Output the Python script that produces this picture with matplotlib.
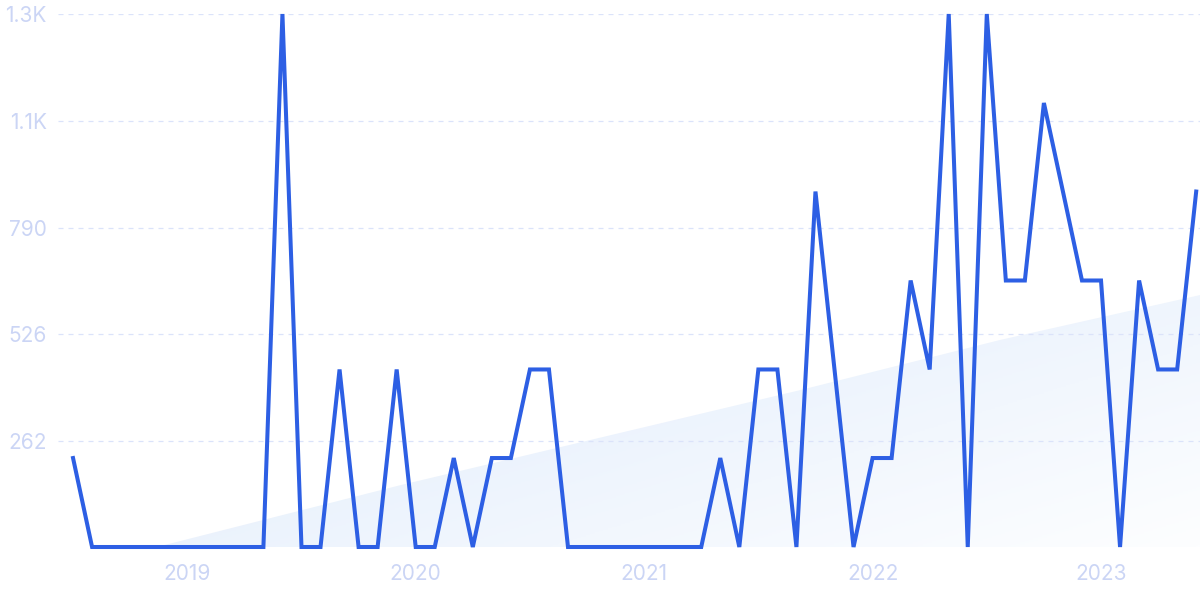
import numpy as np
import matplotlib.pyplot as plt
from matplotlib.colors import LinearSegmentedColormap

# monthly values, July 2018 .. June 2023
values = [220, 0, 0, 0, 0, 0, 0, 0, 0, 0, 0, 1318,
          0, 0, 439, 0, 0, 439, 0, 0, 220, 0, 220, 220,
          439, 439, 0, 0, 0, 0, 0, 0, 0, 0, 220, 0,
          439, 439, 0, 879, 439, 0, 220, 220, 659, 439, 1318, 0,
          1318, 659, 659, 1098, 879, 659, 659, 0, 659, 439, 439, 879]
months = np.arange(len(values))

# trend band shown under the line
trend_x = [0, 4.4, 10, 17.2, 38.2, 48.7, 59.2]
trend_y = [0, 0, 67, 153, 388, 512, 623]

year_pos = [6, 18, 30, 42, 54]
year_labels = ['2019', '2020', '2021', '2022', '2023']
ytick_vals = [262, 526, 790, 1054, 1318]
ytick_labels = ['262', '526', '790', '1.1K', '1.3K']

plt.rcParams['font.family'] = ['Inter', 'DejaVu Sans']
label_color = '#cbd5f5'

fig = plt.figure(figsize=(12, 6), dpi=100)
ax = fig.add_axes([58 / 1200, 53 / 600, 1142 / 1200, 533 / 600])

ax.set_xlim(-0.79, 59.2)
ax.set_ylim(0, 1318)

# gradient fill under the trend
grad = np.linspace(0, 1, 256)
gx, gy = np.meshgrid(grad, grad)
g = np.clip(0.55 * gx + 0.4 * gy, 0, 1)
cmap = LinearSegmentedColormap.from_list('fill', ['#dce9fb', '#fdfeff'])
img = ax.imshow(g, cmap=cmap, extent=[0, 59.2, 0, 630], origin='upper',
                aspect='auto', zorder=1)
poly = ax.fill_between(trend_x, 0, trend_y, color='none', zorder=1)
img.set_clip_path(poly.get_paths()[0], transform=ax.transData)

ax.plot(months, values, color='#2d5fe4', lw=2.9, solid_joinstyle='miter',
        clip_on=False, zorder=3)

ax.set_yticks(ytick_vals)
ax.set_yticklabels(ytick_labels)
ax.set_xticks(year_pos)
ax.set_xticklabels(year_labels)
ax.tick_params(axis='both', length=0, labelsize=15, labelcolor=label_color)
ax.tick_params(axis='y', pad=8)
ax.tick_params(axis='x', pad=12)

ax.grid(axis='y', color='#dbe3fa', lw=0.9, linestyle=(0, (4, 4)), zorder=0)
ax.grid(axis='x', visible=False)
for s in ax.spines.values():
    s.set_visible(False)

fig.savefig('out.png', dpi=100)
